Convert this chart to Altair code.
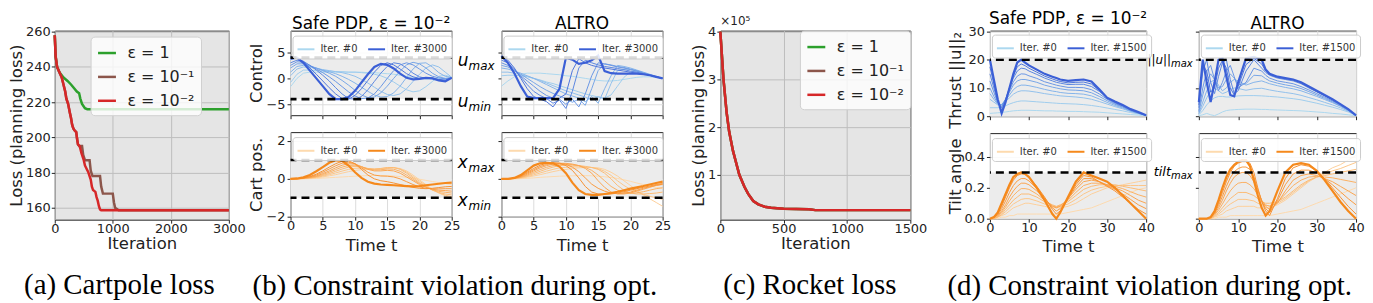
import altair as alt
import pandas as pd

FONT = "DejaVu Sans"
SERIF = "Liberation Serif"

# ---------------- (a) Cartpole loss ----------------
EPS_LABELS = ["ε = 1", "ε = 10⁻¹", "ε = 10⁻²"]
EPS_COLORS = ["#2ca02c", "#8c564b", "#d62728"]

CP_GREEN_ITER = [0, 15, 40, 80, 150, 220, 280, 330, 380, 420, 440, 470, 520, 560, 3000]
CP_GREEN_LOSS = [258, 246, 240, 237, 234, 232, 230, 228, 226, 225, 222, 219, 216.5, 216, 216]

CP_BROWN_ITER = [0, 15, 40, 80, 120, 150, 180, 200, 230, 260, 280, 300, 320, 340, 370, 385, 400,
                 420, 470, 490, 520, 600, 620, 650, 780, 800, 830, 1000, 1020, 1040, 1100, 3000]
CP_BROWN_LOSS = [258, 246, 240, 237, 234, 230, 226, 222, 219, 214, 211, 207, 205, 204, 203, 199, 196,
                 195, 195, 190, 187, 187, 181, 178, 178, 172, 168, 168, 163, 160, 158.5, 158.5]

CP_RED_ITER = [0, 15, 40, 80, 120, 150, 180, 200, 230, 260, 280, 300, 320, 340, 370, 385, 400, 430,
               460, 480, 500, 520, 550, 580, 620, 640, 660, 700, 720, 740, 760, 780, 800, 3000]
CP_RED_LOSS = [258, 246, 240, 237, 234, 230, 226, 222, 219, 214, 211, 207, 205, 204, 203, 199, 196, 195,
               191, 189, 187, 184, 182, 180, 176, 172, 170, 169, 166, 164, 161, 159, 158.5, 158.5]

# ---------------- (c) Rocket loss (units of 1e5) ----------------
ROCKET_ITER = [0, 10, 25, 50, 70, 100, 120, 150, 190, 220, 260, 300, 350, 400, 500, 700, 750, 1500]
ROCKET_LOSS_E5 = [4.0, 3.6, 3.0, 2.3, 1.9, 1.5, 1.3, 1.0, 0.75, 0.6, 0.45, 0.38, 0.33, 0.31, 0.29, 0.28, 0.26, 0.26]

# ---------------- (b) Cartpole trajectories (first = Iter. #0, last = final iterate) ----------------
T_B = list(range(26))
NAMES_B = ["Iter. #0"] + [f"intermediate {i}" for i in range(1, 8)] + ["Iter. #3000"]

CTRL_PDP = [
    [-1.6, 0.0, 1.0, 1.2, 1.2, 1.2, 1.2, 1.2, 1.2, 1.2, 1.2, 1.2, 1.1, 1.1, 1.0, 0.9, 0.8, 0.6, 0.4, 0.2, 0.0, -0.1, -0.1, 0.0, 0.0, 0.0],
    [-0.8, 0.8, 1.6, 1.6, 1.5, 1.4, 1.4, 1.3, 1.3, 1.2, 1.2, 1.1, 1.0, 0.8, 0.5, 0.0, -0.7, -1.5, -2.2, -2.6, -2.4, -1.6, -0.6, 0.4, 0.6, 0.2],
    [0.5, 1.8, 2.2, 2.1, 1.9, 1.7, 1.5, 1.3, 1.1, 0.8, 0.4, -0.2, -0.9, -1.7, -2.5, -3.1, -3.3, -3.0, -2.0, -0.6, 0.8, 2.0, 2.6, 2.2, 1.2, 0.2],
    [1.2, 2.3, 2.5, 2.3, 2.0, 1.6, 1.3, 0.9, 0.4, -0.2, -0.9, -1.7, -2.5, -3.2, -3.6, -3.5, -2.8, -1.5, 0.2, 1.8, 2.9, 3.0, 2.2, 1.1, 0.4, 0.1],
    [2.0, 2.8, 2.8, 2.4, 2.0, 1.5, 1.0, 0.4, -0.4, -1.3, -2.3, -3.2, -3.7, -3.6, -2.8, -1.5, 0.0, 1.4, 2.6, 3.1, 2.8, 2.0, 1.0, 0.3, 0.0, 0.1],
    [2.5, 3.2, 3.1, 2.5, 1.8, 1.1, 0.3, -0.6, -1.6, -2.6, -3.4, -3.9, -3.8, -3.0, -1.6, 0.0, 1.5, 2.6, 3.0, 2.6, 1.8, 1.0, 0.4, 0.1, -0.1, 0.1],
    [3.0, 3.5, 3.3, 2.5, 1.6, 0.6, -0.5, -1.8, -3.0, -3.9, -4.0, -3.5, -2.2, -0.6, 1.0, 2.3, 3.0, 2.8, 2.0, 1.0, 0.3, 0.0, 0.1, -0.2, -0.3, 0.1],
    [3.6, 3.9, 3.2, 2.0, 0.8, -0.5, -1.8, -3.0, -3.9, -4.0, -3.3, -2.0, -0.4, 1.2, 2.5, 3.0, 2.6, 1.8, 0.9, 0.3, 0.0, 0.1, 0.0, -0.3, -0.4, 0.1],
    [4.0, 4.0, 3.0, 1.5, 0.0, -1.5, -3.0, -4.0, -4.0, -3.6, -2.4, -0.8, 0.8, 2.2, 2.8, 2.6, 1.9, 0.9, 0.1, -0.2, -0.1, 0.1, 0.0, -0.4, -0.6, 0.1],
]
CTRL_ALTRO = [
    [-1.5, -0.5, 0.3, 0.8, 1.0, 1.0, 1.0, 0.9, 0.8, 0.7, 0.5, 0.4, 0.2, 0.0, -0.2, -0.4, -0.5, -0.5, -0.4, -0.2, 0.0, 0.2, 0.3, 0.3, 0.2, 0.0],
    [0.5, 0.6, 0.6, 0.5, 0.3, 0.0, -0.3, -0.7, -1.0, -1.4, -1.8, -2.2, -2.6, -3.0, -3.3, -3.6, -3.8, -3.2, -1.5, 0.2, 1.2, 1.3, 1.0, 0.6, 0.3, 0.0],
    [1.2, 1.2, 1.0, 0.7, 0.4, 0.0, -0.4, -0.9, -1.4, -1.9, -2.4, -2.8, -3.2, -3.6, -4.2, -3.5, -4.0, -1.0, 1.5, 1.8, 1.7, 1.4, 1.1, 0.7, 0.3, 0.0],
    [2.0, 1.8, 1.4, 1.0, 0.5, 0.0, -0.6, -1.2, -1.8, -2.4, -3.0, -3.4, -3.8, -4.5, -3.5, -4.8, -2.0, 0.5, 2.5, 2.3, 2.0, 1.6, 1.2, 0.8, 0.4, 0.0],
    [2.5, 2.2, 1.5, 0.8, 0.0, -0.8, -1.6, -2.3, -2.9, -3.4, -3.9, -4.6, -4.0, -5.2, -2.0, 1.5, 2.8, 2.6, 2.3, 2.1, 1.8, 1.5, 1.1, 0.7, 0.3, 0.0],
    [3.0, 2.5, 1.5, 0.5, -0.5, -1.5, -2.5, -3.3, -3.8, -4.0, -5.0, -4.0, -5.5, -3.0, 0.5, 3.0, 2.8, 2.5, 2.2, 2.0, 1.7, 1.4, 1.0, 0.7, 0.3, 0.0],
    [3.5, 3.0, 1.8, 0.3, -1.2, -2.5, -3.3, -3.9, -4.8, -4.2, -5.8, -2.5, 2.0, 3.5, 3.0, 2.6, 2.3, 2.1, 1.9, 1.7, 1.4, 1.2, 0.9, 0.6, 0.3, 0.0],
    [4.0, 3.5, 2.0, 0.0, -2.0, -3.5, -4.0, -4.5, -5.5, -3.8, -3.0, 1.5, 3.8, 3.0, 2.5, 2.2, 2.0, 1.8, 1.6, 1.4, 1.2, 1.0, 0.8, 0.6, 0.3, 0.0],
    [4.3, 3.0, 1.0, -1.5, -3.5, -3.8, -3.8, -3.8, -3.8, -2.0, 4.0, 3.6, 2.8, 3.0, 3.5, 4.4, 1.4, 1.0, 0.9, 0.9, 0.9, 0.9, 0.8, 0.6, 0.3, 0.0],
]
CART_PDP = [
    [0, 0, 0.0, 0.01, 0.02, 0.04, 0.06, 0.08, 0.1, 0.12, 0.14, 0.16, 0.17, 0.18, 0.18, 0.17, 0.15, 0.12, 0.08, 0.03, -0.02, -0.08, -0.14, -0.2, -0.25, -0.3],
    [0, 0, 0.01, 0.03, 0.06, 0.1, 0.16, 0.22, 0.3, 0.38, 0.45, 0.48, 0.5, 0.5, 0.52, 0.55, 0.58, 0.55, 0.42, 0.2, -0.05, -0.3, -0.55, -0.75, -0.9, -1.05],
    [0, 0, 0.015, 0.04, 0.08, 0.14, 0.22, 0.31, 0.41, 0.5, 0.56, 0.56, 0.53, 0.51, 0.54, 0.58, 0.6, 0.53, 0.36, 0.12, -0.12, -0.35, -0.58, -0.74, -0.86, -0.95],
    [0, 0, 0.02, 0.05, 0.1, 0.18, 0.28, 0.4, 0.52, 0.62, 0.66, 0.62, 0.55, 0.52, 0.55, 0.6, 0.6, 0.5, 0.3, 0.05, -0.2, -0.4, -0.6, -0.72, -0.8, -0.85],
    [0, 0, 0.025, 0.065, 0.12, 0.23, 0.35, 0.49, 0.62, 0.71, 0.72, 0.64, 0.53, 0.47, 0.48, 0.52, 0.51, 0.4, 0.2, -0.03, -0.25, -0.43, -0.58, -0.66, -0.71, -0.75],
    [0, 0.0, 0.03, 0.08, 0.15, 0.28, 0.42, 0.58, 0.72, 0.8, 0.78, 0.65, 0.5, 0.42, 0.42, 0.45, 0.42, 0.3, 0.1, -0.1, -0.3, -0.45, -0.55, -0.6, -0.62, -0.65],
    [0, 0.005, 0.04, 0.1, 0.2, 0.35, 0.52, 0.69, 0.83, 0.88, 0.8, 0.58, 0.35, 0.2, 0.15, 0.14, 0.1, 0.0, -0.15, -0.3, -0.42, -0.5, -0.53, -0.53, -0.52, -0.52],
    [0, 0.01, 0.05, 0.12, 0.25, 0.42, 0.62, 0.8, 0.93, 0.95, 0.8, 0.5, 0.2, 0.0, -0.1, -0.15, -0.22, -0.3, -0.38, -0.45, -0.5, -0.52, -0.5, -0.46, -0.42, -0.4],
    [0, 0.02, 0.08, 0.2, 0.4, 0.62, 0.85, 0.98, 0.95, 0.7, 0.35, 0.05, -0.15, -0.25, -0.3, -0.32, -0.34, -0.36, -0.38, -0.4, -0.38, -0.34, -0.3, -0.26, -0.22, -0.2],
]
CART_ALTRO = [
    [0, 0, 0.0, 0.01, 0.03, 0.05, 0.08, 0.1, 0.12, 0.14, 0.15, 0.16, 0.17, 0.17, 0.16, 0.14, 0.11, 0.07, 0.02, -0.05, -0.13, -0.22, -0.3, -0.38, -0.45, -0.5],
    [0, 0, 0.01, 0.04, 0.09, 0.15, 0.22, 0.3, 0.38, 0.45, 0.5, 0.55, 0.58, 0.6, 0.6, 0.58, 0.5, 0.35, 0.15, -0.1, -0.35, -0.6, -0.85, -1.05, -1.25, -1.45],
    [0, 0, 0.015, 0.055, 0.12, 0.21, 0.31, 0.41, 0.5, 0.58, 0.61, 0.64, 0.64, 0.63, 0.6, 0.54, 0.4, 0.18, -0.1, -0.35, -0.55, -0.7, -0.82, -0.92, -1.0, -1.08],
    [0, 0, 0.02, 0.07, 0.16, 0.28, 0.4, 0.52, 0.62, 0.7, 0.72, 0.72, 0.7, 0.66, 0.6, 0.5, 0.3, 0.0, -0.35, -0.6, -0.75, -0.8, -0.8, -0.78, -0.75, -0.7],
    [0, 0, 0.025, 0.085, 0.2, 0.35, 0.49, 0.61, 0.7, 0.76, 0.77, 0.75, 0.7, 0.6, 0.45, 0.2, -0.1, -0.4, -0.6, -0.72, -0.76, -0.74, -0.68, -0.6, -0.52, -0.47],
    [0, 0, 0.03, 0.1, 0.25, 0.42, 0.58, 0.7, 0.78, 0.82, 0.82, 0.78, 0.7, 0.55, 0.3, -0.1, -0.45, -0.7, -0.8, -0.8, -0.75, -0.65, -0.55, -0.45, -0.35, -0.3],
    [0, 0, 0.035, 0.12, 0.3, 0.48, 0.65, 0.76, 0.82, 0.83, 0.77, 0.62, 0.38, 0.05, -0.28, -0.5, -0.65, -0.75, -0.78, -0.76, -0.7, -0.6, -0.5, -0.42, -0.34, -0.28],
    [0, 0, 0.04, 0.15, 0.35, 0.55, 0.72, 0.82, 0.86, 0.82, 0.7, 0.45, 0.05, -0.4, -0.7, -0.8, -0.82, -0.8, -0.75, -0.68, -0.6, -0.52, -0.45, -0.38, -0.3, -0.25],
    [0, 0.0, 0.05, 0.2, 0.45, 0.7, 0.82, 0.85, 0.82, 0.65, 0.3, -0.2, -0.6, -0.8, -0.85, -0.85, -0.8, -0.75, -0.68, -0.6, -0.52, -0.45, -0.38, -0.3, -0.22, -0.15],
]

# ---------------- (d) Rocket trajectories ----------------
T_D1 = [0, 1, 2, 3, 4, 5, 6, 7, 8, 9, 10, 12, 14, 16, 17, 18, 20, 22, 24, 26, 28, 30, 32, 34, 36, 38, 40]
T_D2 = [0, 1, 2, 3, 4, 5, 6, 7, 8, 9, 10, 11, 12, 13, 14, 15, 16, 17, 18, 20, 22, 24, 26, 28, 30, 32, 34, 36, 38, 40]
NAMES_D = ["Iter. #0"] + [f"intermediate {i}" for i in range(1, 8)] + ["Iter. #1500"]

THRUST_PDP = [
    [1, 1.1, 1.2, 1.3, 1.5, 1.7, 1.9, 2, 2.1, 2.1, 2.1, 2, 1.9, 1.9, 1.8, 1.8, 1.7, 1.7, 1.6, 1.5, 1.4, 1.2, 1, 0.8, 0.6, 0.4, 0.2],
    [3, 3, 3, 3.2, 3.7, 4.3, 4.8, 5.2, 5.4, 5.4, 5.3, 5.1, 4.9, 4.7, 4.6, 4.5, 4.4, 4.3, 4.1, 3.8, 3.4, 2.9, 2.4, 1.9, 1.3, 0.8, 0.3],
    [6, 5, 4, 4.2, 5.3, 6.5, 7.8, 8.6, 9, 9, 8.9, 8.5, 8, 7.6, 7.4, 7.2, 7, 6.8, 6.5, 6, 5.2, 4.3, 3.4, 2.6, 1.7, 1, 0.3],
    [8, 6, 4.2, 4.1, 5.6, 7.5, 9.4, 10.5, 11, 11, 10.8, 10.2, 9.5, 8.9, 8.7, 8.4, 8.1, 8, 7.8, 7.2, 6.1, 4.9, 3.8, 2.9, 1.8, 1, 0.3],
    [10, 7, 4.5, 4, 6, 8.5, 11, 12.5, 13, 13, 12.7, 12, 11, 10.3, 10, 9.7, 9.3, 9.2, 9, 8.3, 7, 5.5, 4.2, 3.2, 2, 1.1, 0.3],
    [12.5, 8.5, 4.8, 3.5, 6, 9.2, 12.2, 14.2, 15, 14.9, 14.3, 13.4, 12.2, 11.4, 11, 10.7, 10.2, 10.2, 10.1, 9.4, 7.9, 6, 4.5, 3.4, 2.1, 1.1, 0.3],
    [15, 10, 5, 3, 6, 10, 13.5, 16, 17, 16.8, 16, 14.8, 13.5, 12.5, 12, 11.7, 11.2, 11.3, 11.3, 10.5, 8.8, 6.5, 4.8, 3.6, 2.3, 1.2, 0.3],
    [17.5, 11.5, 5.5, 2, 5.5, 10, 14.2, 17.5, 18.5, 17.9, 17, 15.6, 14.2, 13.2, 12.7, 12.3, 11.8, 12, 12.1, 11.4, 9.1, 6.5, 5, 3.8, 2.4, 1.3, 0.3],
    [20, 13, 6, 1, 5, 10, 15, 19, 20, 19, 18, 16.5, 15, 14, 13.5, 13, 12.5, 12.8, 13, 12.3, 9.5, 6.5, 5.2, 4, 2.5, 1.5, 0.3],
]
THRUST_ALTRO = [
    [0.2, 0.5, 1, 0.5, 0.2, 0.8, 1.5, 2, 2.2, 2.3, 2.4, 2.5, 2.5, 2.4, 2.4, 2.3, 2.2, 2.1, 2, 1.9, 1.7, 1.5, 1.3, 1, 0.8, 0.5, 0.2],
    [0.5, 2, 4, 5.5, 6.5, 7, 7, 6.8, 6.8, 7, 7.2, 7.3, 7.3, 7.2, 7.1, 7, 6.8, 6.5, 6.2, 5.8, 5.2, 4.6, 3.9, 3.2, 2.4, 1.5, 0.3],
    [0.8, 3.5, 6.5, 9, 10, 9, 8, 8.5, 9.5, 10, 9.8, 9.2, 9.7, 9.9, 9.6, 9.3, 8.8, 8.4, 8, 7.4, 6.6, 5.8, 4.9, 4, 3, 1.8, 0.3],
    [1, 5, 9, 12, 13, 11, 9, 10, 12, 13, 12.5, 11, 12, 12.5, 12, 11.5, 10.8, 10.2, 9.7, 9, 8, 7, 5.9, 4.8, 3.5, 2, 0.3],
    [1.5, 7.5, 12.5, 15, 13, 10, 10.5, 13, 15, 13.5, 11.2, 11.5, 14.5, 14.3, 13.3, 12.5, 11.7, 11.1, 10.6, 9.8, 8.7, 7.5, 6.3, 5.1, 3.7, 2.1, 0.3],
    [2, 10, 16, 18, 13, 9, 12, 16, 18, 14, 10, 12, 17, 16, 14.5, 13.5, 12.5, 12, 11.5, 10.5, 9.3, 8, 6.7, 5.4, 3.9, 2.2, 0.3],
    [3, 16, 20, 12, 8, 14, 19, 20, 13, 8, 9, 16, 20, 17, 15.5, 14.5, 13.5, 13, 12.5, 11.5, 10, 8.6, 7.2, 5.8, 4.2, 2.4, 0.3],
    [4, 18, 16, 8.5, 10, 17, 19.8, 17, 10, 7.5, 10.5, 18.3, 20.5, 18.5, 16, 14.8, 13.8, 13.3, 12.8, 11.8, 10.3, 8.8, 7.4, 5.9, 4.3, 2.5, 0.3],
    [5, 20, 12, 5, 12, 20, 20.5, 14, 7.5, 7, 12, 20.5, 21, 20, 16.5, 15, 14, 13.5, 13, 12, 10.5, 9, 7.5, 6, 4.3, 2.5, 0.3],
]
TILT_PDP = [
    [0, 0, 0, 0.01, 0.01, 0.02, 0.02, 0.03, 0.03, 0.03, 0.03, 0.03, 0.03, 0.03, 0.03, 0.03, 0.04, 0.05, 0.06, 0.07, 0.09, 0.11, 0.13, 0.15, 0.17, 0.19, 0.2],
    [0, 0, 0.01, 0.02, 0.03, 0.05, 0.07, 0.08, 0.09, 0.1, 0.1, 0.09, 0.08, 0.07, 0.07, 0.07, 0.08, 0.1, 0.13, 0.16, 0.18, 0.2, 0.21, 0.22, 0.23, 0.24, 0.25],
    [0, 0, 0.01, 0.025, 0.045, 0.07, 0.095, 0.11, 0.125, 0.13, 0.13, 0.115, 0.095, 0.08, 0.075, 0.08, 0.095, 0.125, 0.16, 0.185, 0.2, 0.21, 0.215, 0.215, 0.215, 0.215, 0.215],
    [0, 0, 0.01, 0.03, 0.06, 0.09, 0.12, 0.14, 0.16, 0.16, 0.16, 0.14, 0.11, 0.09, 0.08, 0.09, 0.11, 0.15, 0.19, 0.21, 0.22, 0.22, 0.22, 0.21, 0.2, 0.19, 0.18],
    [0, 0.005, 0.015, 0.04, 0.075, 0.115, 0.15, 0.175, 0.195, 0.195, 0.19, 0.16, 0.12, 0.085, 0.075, 0.085, 0.12, 0.17, 0.215, 0.23, 0.23, 0.22, 0.21, 0.195, 0.175, 0.155, 0.14],
    [0, 0.01, 0.02, 0.05, 0.09, 0.14, 0.18, 0.21, 0.23, 0.23, 0.22, 0.18, 0.13, 0.08, 0.07, 0.08, 0.13, 0.19, 0.24, 0.25, 0.24, 0.22, 0.2, 0.18, 0.15, 0.12, 0.1],
    [0, 0.01, 0.025, 0.065, 0.115, 0.17, 0.215, 0.245, 0.26, 0.26, 0.245, 0.195, 0.135, 0.07, 0.05, 0.065, 0.13, 0.205, 0.26, 0.26, 0.24, 0.215, 0.19, 0.16, 0.125, 0.09, 0.065],
    [0, 0.01, 0.03, 0.08, 0.14, 0.2, 0.25, 0.28, 0.29, 0.29, 0.27, 0.21, 0.14, 0.06, 0.03, 0.05, 0.13, 0.22, 0.28, 0.27, 0.24, 0.21, 0.18, 0.14, 0.1, 0.06, 0.03],
    [0, 0.01, 0.04, 0.1, 0.16, 0.22, 0.27, 0.29, 0.3, 0.29, 0.27, 0.2, 0.12, 0.03, 0.0, 0.04, 0.14, 0.24, 0.3, 0.28, 0.26, 0.24, 0.2, 0.15, 0.1, 0.05, 0.0],
]
TILT_ALTRO = [
    [0, 0, 0, 0, 0, 0.01, 0.01, 0.01, 0.02, 0.02, 0.02, 0.02, 0.02, 0.02, 0.02, 0.02, 0.02, 0.02, 0.02, 0.03, 0.04, 0.05, 0.06, 0.08, 0.1, 0.12, 0.14, 0.16, 0.18, 0.2],
    [0, 0, 0, 0, 0.01, 0.02, 0.03, 0.05, 0.06, 0.07, 0.08, 0.08, 0.08, 0.08, 0.08, 0.07, 0.07, 0.07, 0.07, 0.09, 0.12, 0.16, 0.2, 0.24, 0.27, 0.3, 0.33, 0.35, 0.38, 0.41],
    [0, 0, 0, 0, 0.015, 0.03, 0.05, 0.075, 0.095, 0.11, 0.125, 0.125, 0.125, 0.12, 0.115, 0.1, 0.09, 0.085, 0.085, 0.1, 0.13, 0.17, 0.21, 0.245, 0.27, 0.29, 0.31, 0.325, 0.345, 0.365],
    [0, 0, 0, 0, 0.02, 0.04, 0.07, 0.1, 0.13, 0.15, 0.17, 0.17, 0.17, 0.16, 0.15, 0.13, 0.11, 0.1, 0.1, 0.11, 0.14, 0.18, 0.22, 0.25, 0.27, 0.28, 0.29, 0.3, 0.31, 0.32],
    [0, 0, 0, 0.005, 0.025, 0.055, 0.095, 0.14, 0.18, 0.21, 0.23, 0.235, 0.235, 0.22, 0.195, 0.155, 0.115, 0.09, 0.08, 0.105, 0.16, 0.215, 0.25, 0.27, 0.275, 0.27, 0.265, 0.255, 0.245, 0.235],
    [0, 0, 0, 0.01, 0.03, 0.07, 0.12, 0.18, 0.23, 0.27, 0.29, 0.3, 0.3, 0.28, 0.24, 0.18, 0.12, 0.08, 0.06, 0.1, 0.18, 0.25, 0.28, 0.29, 0.28, 0.26, 0.24, 0.21, 0.18, 0.15],
    [0, 0, 0, 0.01, 0.035, 0.085, 0.145, 0.21, 0.265, 0.305, 0.325, 0.335, 0.335, 0.32, 0.27, 0.19, 0.115, 0.065, 0.04, 0.115, 0.22, 0.29, 0.315, 0.315, 0.295, 0.26, 0.22, 0.175, 0.13, 0.09],
    [0, 0, 0, 0.01, 0.04, 0.1, 0.17, 0.24, 0.3, 0.34, 0.36, 0.37, 0.37, 0.36, 0.3, 0.2, 0.11, 0.05, 0.02, 0.13, 0.26, 0.33, 0.35, 0.34, 0.31, 0.26, 0.2, 0.14, 0.08, 0.03],
    [0, 0, 0.0, 0.01, 0.05, 0.12, 0.2, 0.27, 0.32, 0.35, 0.37, 0.38, 0.38, 0.34, 0.25, 0.15, 0.07, 0.02, 0.05, 0.18, 0.3, 0.35, 0.36, 0.35, 0.31, 0.25, 0.18, 0.11, 0.05, 0.0],
]

BLUES = ["#acd8ef", "#9fcdee", "#92c1ec", "#84b3ea", "#77a5e7", "#6a96e4", "#5c86e0", "#4e75dc", "#3b5fd6"]
ORANGES = ["#fddaae", "#fdd09b", "#fcc688", "#fcbb75", "#fbb063", "#faa552", "#f99b42", "#f79233", "#f5891c"]
BAND = "#ececec"
GRID_B = "#dcdcdc"
GRID_A = "#bdbdbd"
BG_A = "#e5e5e5"

AX = dict(tickSize=3.5, tickColor="#222", tickWidth=1, labelFontSize=13, labelColor="#222",
          titleFontSize=16.5, titleColor="#222", titleFontWeight="normal", domain=False,
          labelFont=FONT, titleFont=FONT)


def long_df(t, curves, names):
    rows = []
    for name, vals in zip(names, curves):
        for tt, v in zip(t, vals):
            rows.append({"t": tt, "y": v, "series": name})
    return pd.DataFrame(rows)


def qx(field, dom, ticks, labels, title, grid_color, title_pad):
    ax = alt.Axis(values=ticks, labels=labels, title=title, grid=True, gridColor=grid_color, format="d",
                  labelFlush=False, labelPadding=-1, titlePadding=title_pad, **AX)
    return alt.X(f"{field}:Q", scale=alt.Scale(domain=dom, nice=False, zero=False), axis=ax)


def qy(field, dom, ticks, labels, title, grid_color, ext, fmt="", lab_pad=2, title_pad=1, title_y=None):
    kw = dict(values=ticks, labels=labels, title=title, grid=True, gridColor=grid_color,
              labelPadding=lab_pad, titlePadding=title_pad, **AX)
    if ext:
        kw["minExtent"] = ext
        kw["maxExtent"] = ext
    if fmt:
        kw["format"] = fmt
    if title_y is not None:
        kw["titleY"] = title_y
    return alt.Y(f"{field}:Q", scale=alt.Scale(domain=dom, nice=False, zero=False), axis=alt.Axis(**kw))


def fan_legend(names, lx, ly):
    return alt.Legend(orient="none", legendX=lx, legendY=ly, direction="horizontal", title=None,
                      values=[names[0], names[-1]], symbolType="stroke", symbolSize=289,
                      symbolStrokeWidth=2, labelFont=FONT, labelFontSize=10, labelColor="#333",
                      fillColor="rgba(255,255,255,0.85)", strokeColor="#cccccc", padding=4,
                      cornerRadius=3, columnPadding=6, labelOffset=5, labelLimit=200)


def eps_legend(lx, ly):
    return alt.Legend(orient="none", legendX=lx, legendY=ly, direction="vertical", title=None,
                      symbolType="stroke", symbolSize=324, symbolStrokeWidth=2.5, labelFont=FONT,
                      labelFontSize=16, labelColor="#222", fillColor="rgba(255,255,255,0.8)",
                      strokeColor="#d0d0d0", padding=6, rowPadding=5, cornerRadius=4, labelOffset=10,
                      labelLimit=300)


def fan_panel(t, curves, names, colors, ydom, yticks, ytitle, show_ylab, xdom, xticks, show_xlab,
              band, dashes, width, height, leg_x, leg_y, ext, labels=(), lab_fonts=(17, 12),
              lab_dy=(3, 8), main_align="left", yfmt="", title=None, title_y=None):
    X = lambda: qx("t", xdom, xticks, show_xlab, "Time t" if show_xlab else None, GRID_B, 5)
    Y = lambda: qy("y", ydom, yticks, show_ylab, ytitle if show_ylab else None, GRID_B,
                   ext if show_ylab else 0, yfmt, title_y=title_y)
    color = alt.Color("series:N", scale=alt.Scale(domain=names, range=colors),
                      legend=fan_legend(names, leg_x, leg_y))
    fan_df = long_df(t, curves[:-1], names[:-1])
    fin_df = long_df(t, curves[-1:], names[-1:])
    band_l = alt.Chart(pd.DataFrame({"y": [band[0]], "y2": [band[1]]})).mark_rect(color=BAND).encode(
        y=Y(), y2="y2:Q")
    fan_l = alt.Chart(fan_df).mark_line(strokeWidth=1.0).encode(x=X(), y=Y(), color=color)
    fin_l = alt.Chart(fin_df).mark_line(strokeWidth=2.2).encode(x=X(), y=Y(), color=color)
    rule_l = alt.Chart(pd.DataFrame({"y": dashes})).mark_rule(
        color="black", strokeWidth=2.6, strokeDash=[8, 5]).encode(y=Y())
    layers = [band_l, fan_l, fin_l, rule_l]
    for (yv, main, sub, main_x, sub_x) in labels:
        df = pd.DataFrame({"y": [yv], "main": [main], "sub": [sub]})
        layers.append(alt.Chart(df).mark_text(align=main_align, baseline="middle", font=FONT, fontStyle="italic",
                                              fontSize=lab_fonts[0], dy=lab_dy[0], color="black").encode(
            x=alt.value(width + main_x), y=Y(), text="main:N"))
        layers.append(alt.Chart(df).mark_text(align="left", baseline="middle", font=FONT, fontStyle="italic",
                                              fontSize=lab_fonts[1], dy=lab_dy[1], color="black").encode(
            x=alt.value(width + sub_x), y=Y(), text="sub:N"))
    props = dict(width=width, height=height, view=alt.ViewBackground(stroke="#222", strokeWidth=1, fill="white"))
    if title is not None:
        props["title"] = title
    return alt.layer(*layers).properties(**props)


def top_title(text):
    return alt.TitleParams(text=text, font=FONT, fontSize=17, fontWeight="normal", color="black",
                           offset=-2, anchor="middle", frame="group")


def caption(text, dx, offset):
    return alt.TitleParams(text=text, font=SERIF, fontSize=29, fontWeight="normal", color="black",
                           orient="bottom", anchor="middle", dx=dx, offset=offset)


def caption_mark(text, x, y):
    return alt.Chart(pd.DataFrame({"c": [text]})).mark_text(
        font=SERIF, fontSize=29, align="center", baseline="middle", color="black").encode(
        x=alt.value(x), y=alt.value(y), text="c:N")


def spacer(w):
    return alt.Chart(pd.DataFrame({"v": [0]})).mark_point(opacity=0).properties(width=w, height=1)


def indep(c):
    return c.resolve_scale(x="independent", y="independent", color="independent").resolve_legend(
        color="independent")


# ----- panels (a) and (c)
def eps_lines(iters_list, vals_list, xdom, xticks, ydom, yticks, ytitle, lx, ly, ext):
    X = lambda: qx("it", xdom, xticks, True, "Iteration", GRID_A, 0)
    Y = lambda: qy("loss", ydom, yticks, True, ytitle, GRID_A, ext, "", 1, 0)
    color = alt.Color("eps:N", scale=alt.Scale(domain=EPS_LABELS, range=EPS_COLORS), legend=eps_legend(lx, ly))
    layers = []
    for lab, its, vals in zip(EPS_LABELS, iters_list, vals_list):
        df = pd.DataFrame({"it": its, "loss": vals, "eps": lab})
        layers.append(alt.Chart(df).mark_line(strokeWidth=2.5).encode(x=X(), y=Y(), color=color))
    return layers


a_layers = eps_lines([CP_GREEN_ITER, CP_BROWN_ITER, CP_RED_ITER], [CP_GREEN_LOSS, CP_BROWN_LOSS, CP_RED_LOSS],
                     [0, 3000], [0, 1000, 2000, 3000], [153.2, 260.6], [160, 180, 200, 220, 240, 260],
                     "Loss (planning loss)", 36, 6, 30)
panel_a = alt.layer(*a_layers, caption_mark("(a) Cartpole loss", 65, 256)).properties(
    width=175, height=190, view=alt.ViewBackground(stroke="#222", strokeWidth=1, fill=BG_A))

c_layers = eps_lines([ROCKET_ITER] * 3, [ROCKET_LOSS_E5] * 3, [0, 1500], [0, 500, 1000, 1500],
                     [0.06, 4.02], [1, 2, 3, 4], "Loss (planning loss)", 80, 0, 14)
c_scale_txt = alt.Chart(pd.DataFrame({"s": ["×10⁵"]})).mark_text(
    align="left", baseline="bottom", font=FONT, fontSize=12, color="#222").encode(
    x=alt.value(0), y=alt.value(-3), text="s:N")
panel_c = alt.layer(*c_layers, c_scale_txt, caption_mark("(c) Rocket loss", 90, 256)).properties(
    width=191, height=190, view=alt.ViewBackground(stroke="#222", strokeWidth=1, fill=BG_A))

# ----- panel (b)
XB = [0, 5, 10, 15, 20, 25]
ctrl_pdp = fan_panel(T_B, CTRL_PDP, NAMES_B, BLUES, [-7.1, 9.2], [-5, 0, 5], "Control", True,
                     [0, 25], XB, False, (-4, 4), [-4, 4], 162, 85, 2, 5, 25,
                     labels=[(4, "u", "max", 6, 17), (-4, "u", "min", 6, 17)],
                     title=top_title("Safe PDP, ε = 10⁻²"))
ctrl_altro = fan_panel(T_B, CTRL_ALTRO, NAMES_B, BLUES, [-7.1, 9.2], [-5, 0, 5], "Control", False,
                       [0, 25], XB, False, (-4, 4), [-4, 4], 162, 85, 2, 5, 25,
                       title=top_title("ALTRO"))
cart_pdp = fan_panel(T_B, CART_PDP, NAMES_B, ORANGES, [-2, 2.47], [-2, 0, 2], "Cart pos.", True,
                     [0, 25], XB, True, (-1, 1), [-1, 1], 162, 85, 2, 5, 25,
                     labels=[(1, "x", "max", 6, 17), (-1, "x", "min", 6, 17)])
cart_altro = fan_panel(T_B, CART_ALTRO, NAMES_B, ORANGES, [-2, 2.47], [-2, 0, 2], "Cart pos.", False,
                       [0, 25], XB, True, (-1, 1), [-1, 1], 162, 85, 2, 5, 25)

group_b = indep(alt.concat(ctrl_pdp, ctrl_altro, cart_pdp, cart_altro, columns=2,
                           spacing={"row": 17, "column": 50}, bounds="flush",
                           title=caption("(b) Constraint violation during opt.", -5, 18)))

# ----- panel (d)
XD = [0, 10, 20, 30, 40]
thr_pdp = fan_panel(T_D1, THRUST_PDP, NAMES_D, BLUES, [0, 30.3], [0, 10, 20, 30], "Thrust ||u||₂", True,
                    [0, 40], XD, False, (0, 20), [20], 157, 86, 2, 4, 26,
                    labels=[(20, "||u||", "max", 25, 25)], lab_fonts=(12, 10), lab_dy=(0, 4),
                    main_align="right", title=top_title("Safe PDP, ε = 10⁻²"), title_y=49.5)
thr_altro = fan_panel(T_D1, THRUST_ALTRO, NAMES_D, BLUES, [0, 30.3], [0, 10, 20, 30], "Thrust ||u||₂", False,
                      [0, 40], XD, False, (0, 20), [20], 158, 86, 2, 4, 26,
                      title=top_title("ALTRO"))
tilt_pdp = fan_panel(T_D1, TILT_PDP, NAMES_D, ORANGES, [0, 0.555], [0, 0.2, 0.4], "Tilt angle", True,
                     [0, 40], XD, True, (0, 0.3), [0.3], 157, 86, 2, 5, 26,
                     labels=[(0.3, "tilt", "max", 25, 25)], lab_fonts=(13, 10), lab_dy=(0, 4),
                     main_align="right", yfmt=".1f")
tilt_altro = fan_panel(T_D2, TILT_ALTRO, NAMES_D, ORANGES, [0, 0.555], [0, 0.2, 0.4], "Tilt angle", False,
                       [0, 40], XD, True, (0, 0.3), [0.3], 158, 86, 2, 5, 26, yfmt=".1f")

group_d = indep(alt.concat(thr_pdp, thr_altro, tilt_pdp, tilt_altro, columns=2,
                           spacing={"row": 17, "column": 53}, bounds="flush",
                           title=caption("(d) Constraint violation during opt.", -6, 16)))

# top level: flush layout, nested groups take no width so the following spacer carries their span
chart = indep(alt.hconcat(panel_a, spacer(62), group_b, spacer(374 + 58), panel_c, spacer(80), group_d,
                          spacing=0, bounds="flush")).configure_view(stroke="transparent").properties(
    padding=0, background="white")

chart.save("out.html", embed_options={"renderer": "svg", "actions": False})
